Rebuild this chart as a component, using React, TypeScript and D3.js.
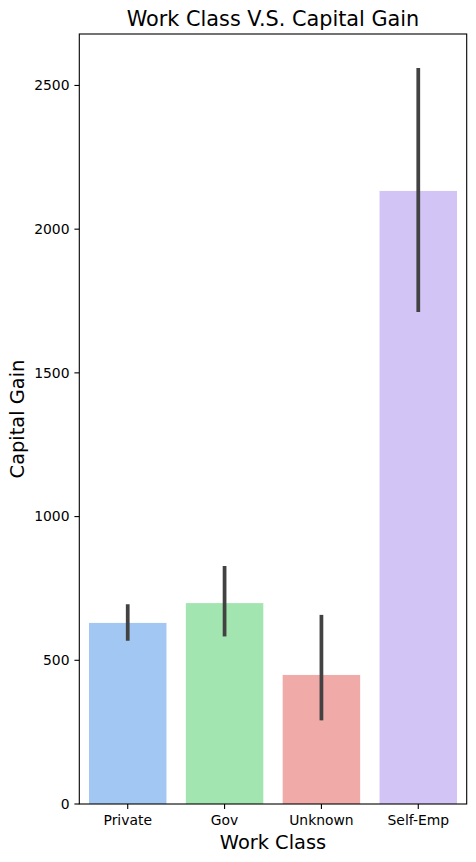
import * as d3 from 'd3';

const categories = ['Private', 'Gov', 'Unknown', 'Self-Emp'];
const means = [630, 699, 449, 2133];
const ciLow = [568, 583, 291, 1712];
const ciHigh = [695, 828, 658, 2561];
const colors = ['#a1c7f2', '#a3e5b0', '#f0aaa8', '#d3c4f6'];
const yTicks = [0, 500, 1000, 1500, 2000, 2500];

export default function App() {
  const W = 476;
  const H = 862;
  const left = 79.3;
  const right = 466.7;
  const top = 34;
  const bottom = 804;

  const x = d3
    .scaleBand<string>()
    .domain(categories)
    .range([left, right])
    .paddingInner(0.2)
    .paddingOuter(0.1);
  const y = d3.scaleLinear().domain([0, 2679]).range([bottom, top]);
  const font = 'DejaVu Sans, sans-serif';

  return (
    <svg
      width={W}
      height={H}
      viewBox={`0 0 ${W} ${H}`}
      style={{ position: 'absolute', left: 0, top: 0, background: '#fff' }}
      fontFamily={font}
    >
      {categories.map((c, i) => (
        <rect
          key={c}
          x={x(c)}
          y={y(means[i])}
          width={x.bandwidth()}
          height={y(0) - y(means[i])}
          fill={colors[i]}
        />
      ))}
      {categories.map((c, i) => (
        <line
          key={`err-${c}`}
          x1={(x(c) ?? 0) + x.bandwidth() / 2}
          x2={(x(c) ?? 0) + x.bandwidth() / 2}
          y1={y(ciLow[i])}
          y2={y(ciHigh[i])}
          stroke="#424242"
          strokeWidth={3.75}
        />
      ))}
      <rect x={left} y={top} width={right - left} height={bottom - top} fill="none" stroke="#000" strokeWidth={1.1} />

      {yTicks.map((t) => (
        <g key={`y-${t}`} transform={`translate(0,${y(t)})`}>
          <line x1={left - 4.9} x2={left} stroke="#000" strokeWidth={1.1} />
          <text x={left - 9.8} dy="0.35em" textAnchor="end" fontSize={13.9} fill="#000">
            {t}
          </text>
        </g>
      ))}
      {categories.map((c) => {
        const cx = (x(c) ?? 0) + x.bandwidth() / 2;
        return (
          <g key={`x-${c}`} transform={`translate(${cx},${bottom})`}>
            <line y1={0} y2={4.9} stroke="#000" strokeWidth={1.1} />
            <text y={21} textAnchor="middle" fontSize={13.9} fill="#000">
              {c}
            </text>
          </g>
        );
      })}

      <text x={(left + right) / 2} y={26} textAnchor="middle" fontSize={20.8} fill="#000">
        Work Class V.S. Capital Gain
      </text>
      <text x={(left + right) / 2} y={849} textAnchor="middle" fontSize={19.4} fill="#000">
        Work Class
      </text>
      <text
        transform={`translate(24,${(top + bottom) / 2}) rotate(-90)`}
        textAnchor="middle"
        fontSize={19.4}
        fill="#000"
      >
        Capital Gain
      </text>
    </svg>
  );
}
